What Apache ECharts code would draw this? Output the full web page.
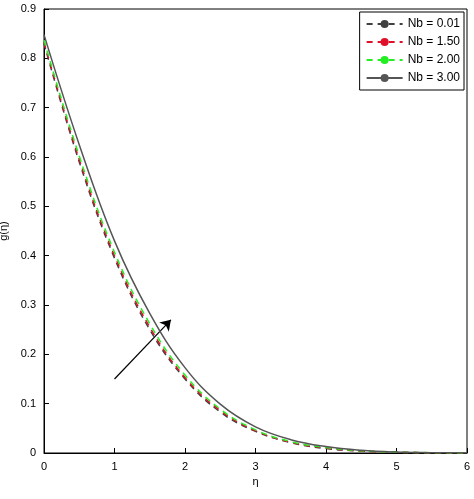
<!DOCTYPE html>
<html><head><meta charset="utf-8">
<script src="https://cdn.jsdelivr.net/npm/echarts@6/dist/echarts.min.js"></script>
<style>html,body{margin:0;background:#fff}#c{width:474px;height:499px}</style>
</head><body><div id="c"></div>
<script>
"use strict"
const eta = [0, 0.5, 1, 1.5, 2, 2.5, 3, 3.5, 4, 4.5, 5, 5.5, 6]
const nb001 = [0.83, 0.59, 0.395, 0.25, 0.15, 0.083, 0.044, 0.021, 0.009, 0.004, 0.0015, 0.0005, 0]
const nb150 = [0.833, 0.595, 0.4, 0.255, 0.153, 0.086, 0.045, 0.022, 0.01, 0.004, 0.0015, 0.0005, 0]
const nb200 = [0.837, 0.602, 0.407, 0.262, 0.158, 0.089, 0.047, 0.023, 0.011, 0.0045, 0.0017, 0.0006, 0]
const nb300 = [0.848, 0.625, 0.43, 0.283, 0.173, 0.099, 0.053, 0.027, 0.013, 0.0055, 0.002, 0.0007, 0]
const names = ["Nb = 0.01", "Nb = 1.50", "Nb = 2.00", "Nb = 3.00"]

const pair = (ys) => eta.map((x, i) => [x, ys[i]])
const mk = (name, ys, color, type) => ({
  name, type: "line", data: pair(ys), smooth: 0.4, symbol: "none",
  lineStyle: { color, width: 1.5, type }, itemStyle: { color }
})
const ax = { color: "#000", fontSize: 11, fontFamily: "Arial" }
const chart = echarts.init(document.getElementById("c"))
chart.setOption({
  animation: false,
  grid: { left: 44, right: 7, top: 9, bottom: 46, outerBoundsMode: "none", containLabel: false,
    show: true, borderColor: "#000", borderWidth: 1 },
  xAxis: { type: "value", min: 0, max: 6, interval: 1, name: "η", nameLocation: "middle", nameGap: 22,
    nameTextStyle: ax, axisLabel: ax, axisLine: { lineStyle: { color: "#000" } },
    axisTick: { inside: true, lineStyle: { color: "#000" } }, splitLine: { show: false } },
  yAxis: { type: "value", min: 0, max: 0.9, interval: 0.1, name: "g(η)", nameLocation: "middle", nameGap: 28,
    nameTextStyle: ax, axisLabel: ax, axisLine: { lineStyle: { color: "#000" } },
    axisTick: { inside: true, lineStyle: { color: "#000" } }, splitLine: { show: false } },
  legend: { right: 10, top: 12, orient: "vertical", itemWidth: 36, itemHeight: 10, itemGap: 6,
    backgroundColor: "#fff", borderColor: "#000", borderWidth: 1, padding: [6, 4, 6, 6],
    textStyle: { color: "#000", fontSize: 12, fontFamily: "Arial" }, data: names },
  series: [
    mk(names[0], nb001, "#404040", [6, 5]),
    mk(names[1], nb150, "#e0102a", [6, 5]),
    mk(names[2], nb200, "#22ee22", [6, 5]),
    mk(names[3], nb300, "#555555", "solid"),
    { type: "lines", coordinateSystem: "cartesian2d", symbol: ["none", "arrow"], symbolSize: 10,
      lineStyle: { color: "#000", width: 1.2, opacity: 1 }, data: [{ coords: [[1, 0.15], [1.8, 0.27]] }] }
  ]
})
</script></body></html>
